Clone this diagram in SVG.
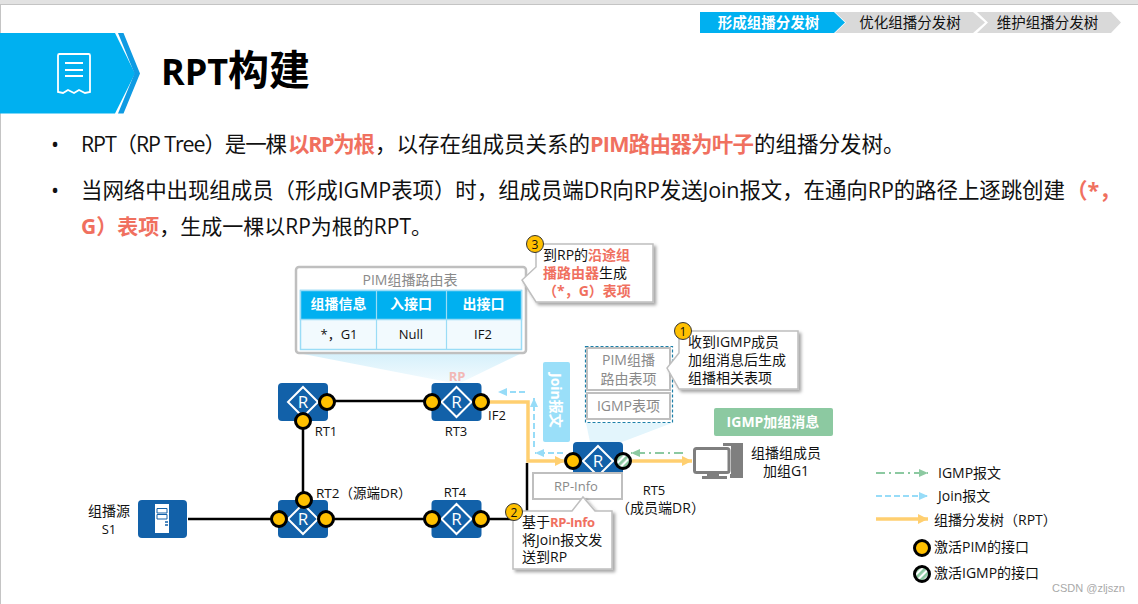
<svg xmlns="http://www.w3.org/2000/svg" width="1138" height="604" viewBox="0 0 1138 604">
<style>
text{font-family:"Open Sans","Noto Sans CJK SC","Noto Sans",sans-serif;fill:#111}
.b{font-size:21.500px}
.r{font-weight:700;fill:#f0705f}
.l{font-size:14px}
.c{font-size:13px;text-anchor:middle}
.g{fill:#8a8a8a;font-size:14px;text-anchor:middle}
.m{text-anchor:middle}
.w{fill:#fff;font-weight:700;text-anchor:middle}
.box{fill:#fff;stroke:#bfbfbf;stroke-width:2}
.call{fill:#fff;stroke:#bfbfbf;stroke-width:1.5;filter:url(#sh)}
.lk{stroke:#000;stroke-width:2.5;fill:none}
.tree{stroke:#ffcf70;stroke-width:3.5;fill:none}
.join{stroke:#97dcf8;stroke-width:2;stroke-dasharray:6 3;fill:none}
.igmp{stroke:#8cc9a1;stroke-width:2;stroke-dasharray:9 4 2 4;fill:none}
.p{fill:#ffc000;stroke:#000;stroke-width:3}
.rt{fill:#1261a9}
.d{fill:none;stroke:#fff;stroke-width:2}
.n{fill:#ffc000;stroke:#333;stroke-width:1}
.nt{font-size:12px;text-anchor:middle}
</style>
<defs>
<filter id="sh" x="-10%" y="-10%" width="125%" height="125%"><feDropShadow dx="2.5" dy="2.5" stdDeviation="1.5" flood-color="#000" flood-opacity=".35"/></filter>
<linearGradient id="beam" x1="0" y1="0" x2="0" y2="1"><stop offset="0" stop-color="#d5f0fb"/><stop offset="1" stop-color="#f4fbfe"/></linearGradient>
<pattern id="hatch" width="5" height="5" patternUnits="userSpaceOnUse" patternTransform="rotate(-45)"><rect width="5" height="5" fill="#fff"/><rect width="5" height="2.800" fill="#8cc9a1"/></pattern>
<marker id="at" markerWidth="11" markerHeight="11" refX="10" refY="5.500" orient="auto" markerUnits="userSpaceOnUse"><path d="M0 .5L10 5.500L0 10.500z" fill="#ffcf70"/></marker>
<marker id="aj" markerWidth="10" markerHeight="10" refX="9" refY="5" orient="auto" markerUnits="userSpaceOnUse"><path d="M0 1L9 5L0 9z" fill="#97dcf8"/></marker>
<marker id="ai" markerWidth="10" markerHeight="10" refX="9" refY="5" orient="auto" markerUnits="userSpaceOnUse"><path d="M0 1L9 5L0 9z" fill="#8cc9a1"/></marker>
<g id="rr"><rect x="-25" y="-19" width="50" height="38" rx="4" class="rt"/><path d="M0 -15L15 0L0 15L-15 0z" class="d"/><text y="6" text-anchor="middle" style="font-size:17px;fill:#fff">R</text></g>
<g id="pp"><circle r="7.500" class="p"/></g>
</defs>

<g id="frame">
<rect width="1138" height="604" fill="#fff"/>
<rect width="1138" height="4" fill="#e2e2e2"/>
<rect y="4" width="1138" height="1" fill="#c4c4c4"/>
<rect y="4" width="1" height="600" fill="#c4c4c4"/>
</g>
<g id="breadcrumb">
<path d="M700 12H834L845 22.500L834 33H700z" fill="#00b0f0"/>
<path d="M835 12H973L985 22.500L973 33H835L846 22.500z" fill="#d9d9d9"/>
<path d="M977 12H1111L1121 22.500L1111 33H977L988 22.500z" fill="#d9d9d9"/>
<text x="768.500" y="28" class="m" style="font-size:14.500px;fill:#fff;font-weight:700">形成组播分发树</text>
<text x="910" y="28" class="m" style="font-size:14.500px">优化组播分发树</text>
<text x="1047.500" y="28" class="m" style="font-size:14.500px">维护组播分发树</text>
</g>
<g id="header">
<path d="M0 33H115L135 73.500L115 113.500H0z" fill="#00b0f0"/>
<path d="M118 33H123.500L140 73.500L123.500 113.500H118L134.500 73.500z" fill="#0f9be3"/>
<path d="M58 55.500Q58 54 59.500 54H88.500Q90 54 90 55.500V92L85 93L79 90L74 93L68 90L63 93L58 92z" fill="none" stroke="#fff" stroke-width="1.800"/>
<path d="M65 63H83M65 70H83M65 76H83" stroke="#fff" stroke-width="1.800"/>
<text x="161" y="84.500" style="font-size:36px;font-weight:700;fill:#000">RPT<tspan x="228" style="font-size:41px">构建</tspan></text>
</g>
<g id="bullets">
<text x="51" y="152" class="b">•</text>
<text x="81" y="152" class="b" textLength="206">RPT（RP Tree）是一棵</text>
<text x="288" y="152" class="b r" textLength="87">以RP为根</text>
<text x="375" y="152" class="b">，以存在组成员关系的</text>
<text x="590" y="152" class="b r" textLength="164">PIM路由器为叶子</text>
<text x="754" y="152" class="b">的组播分发树。</text>
<text x="51" y="198" class="b">•</text>
<text x="81" y="198" class="b" textLength="984">当网络中出现组成员（形成IGMP表项）时，组成员端DR向RP发送Join报文，在通向RP的路径上逐跳创建</text>
<text x="1066" y="198" class="b r">（*，</text>
<text x="81" y="234" style="font-size:21px"><tspan class="r">G）表项</tspan>，生成一棵以RP为根的RPT。</text>
</g>

<path id="beam-rp" d="M298 353H522L458 384z" fill="url(#beam)"/>
<path id="beam-rt5" d="M586 423H672L622 442H590z" fill="#e3f5fc"/>

<g id="connectors">
<path class="lk" d="M188 519H278M326 519H432M480 519H527V463"/>
<path class="lk" d="M303 402V500M327 401H432"/>
<path class="tree" d="M488 402H528V461H565" marker-end="url(#at)"/>
<path class="tree" d="M631 461H692" marker-end="url(#at)"/>
<path class="join" d="M525 392H498" marker-end="url(#aj)"/>
<path class="join" d="M534 447V398" marker-end="url(#aj)"/>
<path class="join" d="M563 453H535" marker-end="url(#aj)"/>
<path class="igmp" d="M683 453H631" marker-end="url(#ai)"/>
</g>

<g id="S1"><rect x="138" y="500" width="49" height="38" rx="4" class="rt"/><path d="M155 504H169V533H155z" fill="#fff"/><path d="M157 508.500H167V513H157zM157 514.500H167V519H157z" fill="#fff" stroke="#1261a9" stroke-width="1"/><path d="M165 522H168M165 525H168" stroke="#1261a9" stroke-width="1.500"/>
<text x="109" y="516" class="c" style="font-size:14px">组播源</text><text x="109" y="534" class="c">S1</text></g>
<g id="RT1"><use href="#rr" x="303" y="402"/><use href="#pp" x="327" y="402"/><use href="#pp" x="303" y="421"/><text x="326" y="436" class="c">RT1</text></g>
<g id="RT2"><use href="#rr" x="303" y="519"/><use href="#pp" x="279" y="519"/><use href="#pp" x="326" y="519"/><use href="#pp" x="304" y="500"/><text x="316" y="498" style="font-size:13.500px">RT2（源端DR）</text></g>
<g id="RT3"><use href="#rr" x="456.500" y="402"/><use href="#pp" x="432" y="402"/><use href="#pp" x="481" y="402"/><text x="456" y="436" class="c">RT3</text><text x="497" y="420" class="c">IF2</text><text x="457" y="381" class="c" style="fill:#f2b8b5;font-weight:700">RP</text></g>
<g id="RT4"><use href="#rr" x="456.500" y="519"/><use href="#pp" x="432" y="519"/><use href="#pp" x="481" y="519"/><text x="455" y="497" class="c">RT4</text></g>
<g id="RT5"><use href="#rr" x="598" y="461"/><use href="#pp" x="573" y="461"/><circle cx="623" cy="461" r="7.500" fill="url(#hatch)" stroke="#000" stroke-width="3"/><text x="654" y="495" class="c">RT5</text><text x="660.500" y="513" class="c" style="font-size:14px">（成员端DR）</text></g>
<g id="host"><rect x="694.500" y="448.500" width="34.500" height="24" rx="2" fill="#fff" stroke="#7f7f7f" stroke-width="3"/><path d="M707 473H719V476H727V479H702V476H707z" fill="#7f7f7f"/><path d="M723 443H743V478H730V474H731V446H723z" fill="#7f7f7f"/>
<text x="786" y="458" class="c" style="font-size:14px">组播组成员</text><text x="786" y="476" class="c" style="font-size:14px">加组G1</text></g>

<g id="rp-table">
<rect x="296" y="267" width="230" height="86" rx="3" fill="#fff" stroke="#bfbfbf" stroke-width="2.500"/>
<text x="410" y="285" class="g">PIM组播路由表</text>
<rect x="300.500" y="290.500" width="221" height="59" fill="#f2fafe" stroke="#9adcf6" stroke-width="1.500"/>
<rect x="300.500" y="290.500" width="221" height="29" fill="#00b0f0" stroke="#9adcf6" stroke-width="1.500"/>
<path d="M376.500 291V350M446.500 291V350" stroke="#9adcf6" stroke-width="1.200"/>
<text x="338.500" y="309" class="w" style="font-size:14px">组播信息</text><text x="411" y="309" class="w" style="font-size:14px">入接口</text><text x="483.500" y="309" class="w" style="font-size:14px">出接口</text>
<text x="339" y="339" class="c">*，G1</text><text x="411" y="339" class="c">Null</text><text x="483" y="339" class="c">IF2</text>
</g>

<g id="join-label"><rect x="543" y="362" width="27" height="80" rx="2" fill="#9adff9"/><text transform="translate(551 373) rotate(90)" style="font-size:14px;fill:#fff;font-weight:700">Join报文</text></g>

<g id="entries">
<rect x="585.500" y="346.500" width="87" height="76" fill="none" stroke="#1b7fa8" stroke-width="1.200" stroke-dasharray="3 2"/>
<rect x="587" y="348" width="83" height="42" class="box"/>
<text x="628.500" y="365" class="g">PIM组播</text><text x="628.500" y="384" class="g">路由表项</text>
<rect x="587" y="393" width="83" height="26" class="box"/>
<text x="628.500" y="411" class="g">IGMP表项</text>
</g>

<g id="igmp-label"><rect x="714" y="408" width="119" height="28" rx="2" fill="#8cc9a1"/><text x="773" y="427" class="w" style="font-size:14px">IGMP加组消息</text></g>

<g id="rp-info"><rect x="533" y="473" width="89" height="26" class="box"/><text x="576" y="491" class="g" style="font-size:13px">RP-Info</text></g>

<g id="callout-1"><path class="call" d="M679 331H798V389H679L667 368L679 353z"/>
<text x="688" y="347" class="l">收到IGMP成员</text><text x="688" y="365" class="l">加组消息后生成</text><text x="688" y="383" class="l">组播相关表项</text>
<circle cx="683" cy="331" r="8.500" class="n"/><text x="683" y="335.500" class="nt">1</text></g>
<g id="callout-2"><path class="call" d="M513 511H572L583 497L595 511H612V569H513z"/>
<text x="522" y="527" class="l">基于<tspan class="r" style="font-size:13px;letter-spacing:-.3px">RP-Info</tspan></text><text x="522" y="545" class="l">将Join报文发</text><text x="522" y="562" class="l">送到RP</text>
<circle cx="514" cy="512" r="8.500" class="n"/><text x="514" y="516.500" class="nt">2</text></g>
<g id="callout-3"><path class="call" d="M536 244H653V302H536L522 280L536 267z"/>
<text x="543" y="260" class="l">到RP的<tspan class="r">沿途组</tspan></text><text x="543" y="278" class="l"><tspan class="r">播路由器</tspan>生成</text><text x="543" y="296" class="l"><tspan class="r">（*，G）表项</tspan></text>
<circle cx="535" cy="244" r="8.500" class="n"/><text x="535" y="248.500" class="nt">3</text></g>

<g id="legend">
<path class="igmp" d="M876 473H928" marker-end="url(#ai)"/><text x="938" y="478" class="l">IGMP报文</text>
<path class="join" d="M876 496H928" marker-end="url(#aj)"/><text x="938" y="501" class="l">Join报文</text>
<path class="tree" d="M876 519H928" marker-end="url(#at)"/><text x="934" y="525" class="l">组播分发树（RPT）</text>
<circle cx="922" cy="548" r="7.500" class="p"/><text x="934" y="552" class="l">激活PIM的接口</text>
<circle cx="922" cy="574" r="7.500" fill="url(#hatch)" stroke="#000" stroke-width="3"/><text x="934" y="578" class="l">激活IGMP的接口</text>
</g>
<text id="watermark" x="1052" y="592" style="font-family:'Liberation Sans',sans-serif;font-size:11px;fill:#a9a9a9">CSDN @zljszn</text>
</svg>
